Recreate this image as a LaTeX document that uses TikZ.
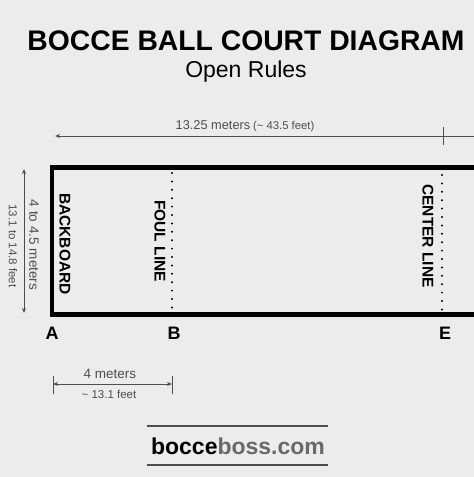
\documentclass[tikz,border=0pt]{standalone}
\usepackage{fontspec}
\setmainfont{Liberation Sans}
\usetikzlibrary{arrows.meta}
\definecolor{bggray}{RGB}{236,236,236}
\definecolor{dimgray}{RGB}{78,78,78}
\definecolor{webgray}{RGB}{105,105,105}
\tikzset{dimtip/.tip={Stealth[length=5pt,width=4pt]}}

\begin{document}
\begin{tikzpicture}[x=1pt,y=-1pt,
    dimline/.style={draw=dimgray, line width=0.9pt},
    dimtext/.style={text=dimgray, inner sep=0pt},
    courtlabel/.style={font=\bfseries\fontsize{15.5}{16}\selectfont, rotate=-90, inner sep=0pt},
    pointlabel/.style={font=\bfseries\fontsize{18}{18}\selectfont, inner sep=0pt},
    dotline/.style={line width=2.2pt, line cap=round, dash pattern=on 0pt off 8.4pt}]
      \fill[bggray] (0,0) rectangle (474,477);
      \useasboundingbox (0,0) rectangle (474,477);
      % title
      \node[name=title, font=\bfseries\fontsize{28.3}{30}\selectfont, inner sep=0pt] at (246,41) {BOCCE BALL COURT DIAGRAM};
      \node[name=subtitle, font=\fontsize{23}{24}\selectfont, inner sep=0pt] at (246,72) {Open Rules};
      % length of the court
      \coordinate (lenR) at (474,136);
      \coordinate (lenL) at (55,136);
      \draw[dimline, -{dimtip}] (lenR) -- (lenL);
      \draw[dimline] (443,127) -- (443,145);
      \node[name=lentext, dimtext, anchor=base] at (245,129)
        {{\fontsize{12.8}{13}\selectfont 13.25 meters} {\fontsize{11.3}{12}\selectfont (\textasciitilde{} 43.5 feet)}};
      % court
      \coordinate (A) at (52,167.5);
      \coordinate (D) at (52,314.5);
      \draw[line width=4.8pt] (474,167.5) -- (A) -- (D) -- (474,314.5);
      \draw[dotline] (172,173) -- (172,308);
      \draw[dotline] (442,175) -- (442,310);
      \node[name=backboard, courtlabel] at (65,244) {BACKBOARD};
      \node[name=foul, courtlabel] at (160,241) {FOUL LINE};
      \node[name=center, courtlabel] at (428,236) {CENTER LINE};
      % width of the court
      \coordinate (widT) at (24,169);
      \coordinate (widB) at (24,313);
      \draw[dimline, {dimtip}-{dimtip}] (widT) -- (widB);
      \node[name=widm, dimtext, rotate=-90, font=\fontsize{13.5}{14}\selectfont] at (34,245) {4 to 4.5 meters};
      \node[name=widf, dimtext, rotate=-90, font=\fontsize{11.5}{12}\selectfont] at (13,246) {13.1 to 14.8 feet};
      % points
      \node[name=pA, pointlabel] at (52,333) {A};
      \node[name=pB, pointlabel] at (174,333) {B};
      \node[name=pE, pointlabel] at (445,333) {E};
      % foul line distance
      \coordinate (fouL) at (53,384);
      \coordinate (fouR) at (172,384);
      \draw[dimline, {dimtip}-{dimtip}] (fouL) -- (fouR);
      \draw[dimline] (53,376) -- (53,394);
      \draw[dimline] (172,376) -- (172,394);
      \node[name=foum, dimtext, font=\fontsize{13.5}{14}\selectfont] at (110,374) {4 meters};
      \node[name=fouf, dimtext, font=\fontsize{11.5}{12}\selectfont] at (109,394) {\textasciitilde{} 13.1 feet};
      % website
      \draw[dimgray, line width=1.2pt] (147,426) -- (328,426);
      \draw[dimgray, line width=1.2pt] (147,465) -- (328,465);
      \node[name=web, font=\bfseries\fontsize{23}{24}\selectfont, inner sep=0pt] at (238,446)
        {bocce\textcolor{webgray}{boss.com}};
\end{tikzpicture}
\end{document}
